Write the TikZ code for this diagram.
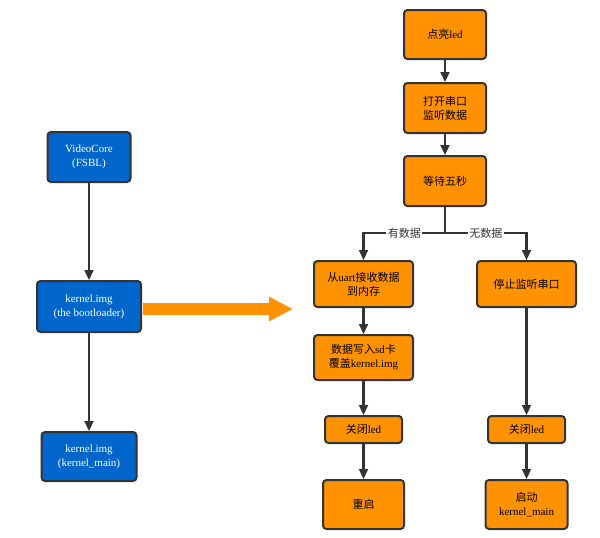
\documentclass[tikz,border=0pt]{standalone}
\usepackage{fontspec}
\setmainfont{Liberation Serif}
\newfontfamily\cjk{Noto Sans CJK SC}
\usetikzlibrary{arrows.meta}
\definecolor{bluebox}{HTML}{0066CC}
\definecolor{orangebox}{HTML}{FF9200}
\definecolor{edge}{HTML}{333333}
\tikzset{
  box/.style={draw=edge, line width=2pt, rounded corners=3.5pt, inner sep=0pt, align=center, font=\fontsize{11}{14}\selectfont},
  bbox/.style={box, fill=bluebox, text=white},
  obox/.style={box, fill=orangebox, text=black},
  conn/.style={draw=edge, line width=2.2pt, -{Triangle[length=10pt,width=9pt]}},
  lbl/.style={fill=white, text=edge, inner sep=1.5pt, font=\cjk\fontsize{11}{12}\selectfont}
}
\begin{document}
\begin{tikzpicture}[x=1pt,y=-1pt]
\useasboundingbox (0,0) rectangle (600,538);
% left column
\node[bbox, minimum width=83pt, minimum height=50pt] (vc) at (89,157) {VideoCore\\(FSBL)};
\node[bbox, minimum width=104pt, minimum height=51pt] (boot) at (89,306.5) {kernel.img\\(the bootloader)};
\node[bbox, minimum width=95pt, minimum height=49pt] (km) at (89,456.5) {kernel.img\\(kernel\_main)};
\draw[conn] (vc) -- (boot);
\draw[conn] (boot) -- (km);
% big orange arrow
\coordinate (bigend) at (293,309);
\draw[orangebox, line width=12pt, -{Triangle[length=24pt,width=23pt]}] (boot.east) ++(1,2.5) coordinate (bigstart) (bigstart) -- (bigend);
% right column
\node[obox, minimum width=82pt, minimum height=49pt] (led) at (445,34.5) {{\cjk 点亮}led};
\node[obox, minimum width=82pt, minimum height=50pt] (open) at (445,108) {\cjk 打开串口\\\cjk 监听数据};
\node[obox, minimum width=82pt, minimum height=50pt] (wait) at (445,181) {\cjk 等待五秒};
\node[obox, minimum width=99pt, minimum height=46pt] (recv) at (363.5,284) {{\cjk 从}uart{\cjk 接收数据}\\\cjk 到内存};
\node[obox, minimum width=99pt, minimum height=46pt] (stop) at (526.5,284) {\cjk 停止监听串口};
\node[obox, minimum width=99pt, minimum height=45pt] (write) at (363.5,357.5) {{\cjk 数据写入}sd{\cjk 卡}\\{\cjk 覆盖}kernel.img};
\node[obox, minimum width=77pt, minimum height=27pt] (offl) at (363.5,429.5) {{\cjk 关闭}led};
\node[obox, minimum width=77pt, minimum height=27pt] (offr) at (526.5,429.5) {{\cjk 关闭}led};
\node[obox, minimum width=81pt, minimum height=49pt] (reboot) at (363.5,504.5) {\cjk 重启};
\node[obox, minimum width=82pt, minimum height=49pt] (start) at (526.5,504.5) {{\cjk 启动}\\kernel\_main};
\draw[conn] (led) -- (open);
\draw[conn] (open) -- (wait);
\coordinate (split) at (445,233);
\draw[draw=edge, line width=2.2pt] (wait.south) -- (split);
\draw[conn] (split) -- node[lbl, pos=0.5] {有数据} (recv.north |- split) -- (recv.north);
\draw[conn] (split) -- node[lbl, pos=0.5] {无数据} (stop.north |- split) -- (stop.north);
\draw[conn] (recv) -- (write);
\draw[conn] (write) -- (offl);
\draw[conn] (offl) -- (reboot);
\draw[conn] (stop) -- (offr);
\draw[conn] (offr) -- (start);
\end{tikzpicture}
\end{document}
